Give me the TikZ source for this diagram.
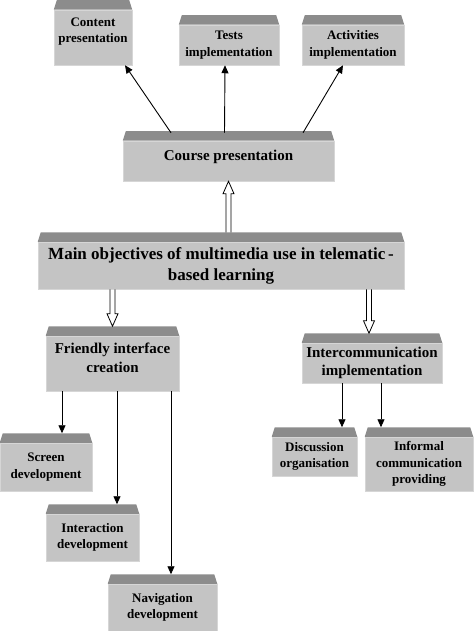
\documentclass[tikz,border=0pt]{standalone}
\usepackage{fontspec}
\setmainfont{Liberation Serif}
\usetikzlibrary{arrows.meta,calc}
\definecolor{bevelc}{RGB}{140,140,140}
\definecolor{bodyc}{RGB}{196,196,196}
\definecolor{edgec}{RGB}{214,214,214}
\tikzset{
  box/.style={rectangle, fill=bodyc, draw=edgec, line width=0.5pt, inner sep=0pt, align=center,
    append after command={\pgfextra{\fill[bevelc] (\tikzlastnode.north west) -- ([xshift=3pt,yshift=9.5pt]\tikzlastnode.north west) -- ([xshift=-3pt,yshift=9.5pt]\tikzlastnode.north east) -- (\tikzlastnode.north east) -- cycle;}}},
  small/.style={box, font=\fontsize{13}{16.5}\selectfont\bfseries},
  medium/.style={box, font=\fontsize{15}{18.5}\selectfont\bfseries},
  large/.style={box, font=\fontsize{17}{21}\selectfont\bfseries},
  arr/.style={line width=0.9pt, -{Triangle[length=8pt,width=7pt]}},
  hollow/.style={line width=0.8pt, to path={let \p1=(\tikztostart), \p2=(\tikztotarget), \n1={sign(\y2-\y1)} in
    (\x1-2.5pt,\y1) -- (\x1-2.5pt,\y2-\n1*12.5pt) -- (\x1-5.5pt,\y2-\n1*12.5pt) -- (\x1,\y2) -- (\x1+5.5pt,\y2-\n1*12.5pt) -- (\x1+2.5pt,\y2-\n1*12.5pt) -- (\x1+2.5pt,\y1)}}
}
\begin{document}
\begin{tikzpicture}[x=1pt,y=1pt]
\useasboundingbox (0,0) rectangle (474,-631);
% top row
\node[small, minimum width=78pt, minimum height=55pt, text depth=15pt] (content) at (93,-37.5) {Content\\presentation};
\node[small, minimum width=100pt, minimum height=40pt] (tests) at (229,-45) {Tests\\implementation};
\node[small, minimum width=102pt, minimum height=40pt] (activities) at (353,-45) {Activities\\implementation};
% course
\node[medium, minimum width=211pt, minimum height=40pt, text depth=11pt] (course) at (228.5,-161) {Course presentation};
% main
\node[large, minimum width=366pt, minimum height=47pt] (main) at (221,-265.5) {Main objectives of multimedia use in telematic\,-\\based learning};
% second level
\node[medium, minimum width=133pt, minimum height=55pt, text depth=12pt] (friendly) at (112.5,-363.5) {Friendly interface\\creation};
\node[medium, minimum width=140pt, minimum height=40pt] (inter) at (372,-363) {Intercommunication\\implementation};
% leaves
\node[small, minimum width=92pt, minimum height=48pt] (screen) at (46,-467) {Screen\\development};
\node[small, minimum width=93pt, minimum height=47pt] (interaction) at (92.5,-537.5) {Interaction\\development};
\node[small, minimum width=109pt, minimum height=47pt] (navigation) at (162.5,-607.5) {Navigation\\development};
\node[small, minimum width=85pt, minimum height=39pt] (discussion) at (314.5,-456.5) {Discussion\\organisation};
\node[small, minimum width=108pt, minimum height=54pt] (informal) at (419,-464) {Informal\\communication\\providing};
% coordinates on bevel tops
\coordinate (ctop) at ([yshift=8pt]course.north);
\coordinate (maintop) at ([yshift=9.5pt]main.north);
\coordinate (ftop) at ([yshift=9.5pt]friendly.north);
\coordinate (itop) at ([xshift=-3pt,yshift=9.5pt]inter.north);
\coordinate (s1) at ([xshift=16pt,yshift=9.5pt]screen.north);
\coordinate (s2) at ([xshift=24.5pt,yshift=9.5pt]interaction.north);
\coordinate (s3) at ([xshift=8.5pt,yshift=9.5pt]navigation.north);
\coordinate (d1) at ([xshift=27.5pt,yshift=9.5pt]discussion.north);
\coordinate (d2) at ([xshift=-38pt,yshift=9.5pt]informal.north);
% arrows from course
\draw[arr] ([xshift=-57.5pt]ctop) -- ([xshift=32pt]content.south);
\draw[arr] ([xshift=-4pt]ctop) -- ([xshift=-4pt]tests.south);
\draw[arr] ([xshift=74.5pt]ctop) -- ([xshift=-10pt]activities.south);
% hollow arrows
\draw[hollow] (maintop -| course.south) to (course.south);
\draw[hollow] (main.south -| friendly.north) to (ftop);
\draw[hollow] (main.south -| itop) to (itop);
% arrows from friendly
\draw[arr] (friendly.south -| s1) -- (s1);
\draw[arr] (friendly.south -| s2) -- (s2);
\draw[arr] (friendly.south -| s3) -- (s3);
% arrows from inter
\draw[arr] (inter.south -| d1) -- (d1);
\draw[arr] (inter.south -| d2) -- (d2);
\end{tikzpicture}
\end{document}
